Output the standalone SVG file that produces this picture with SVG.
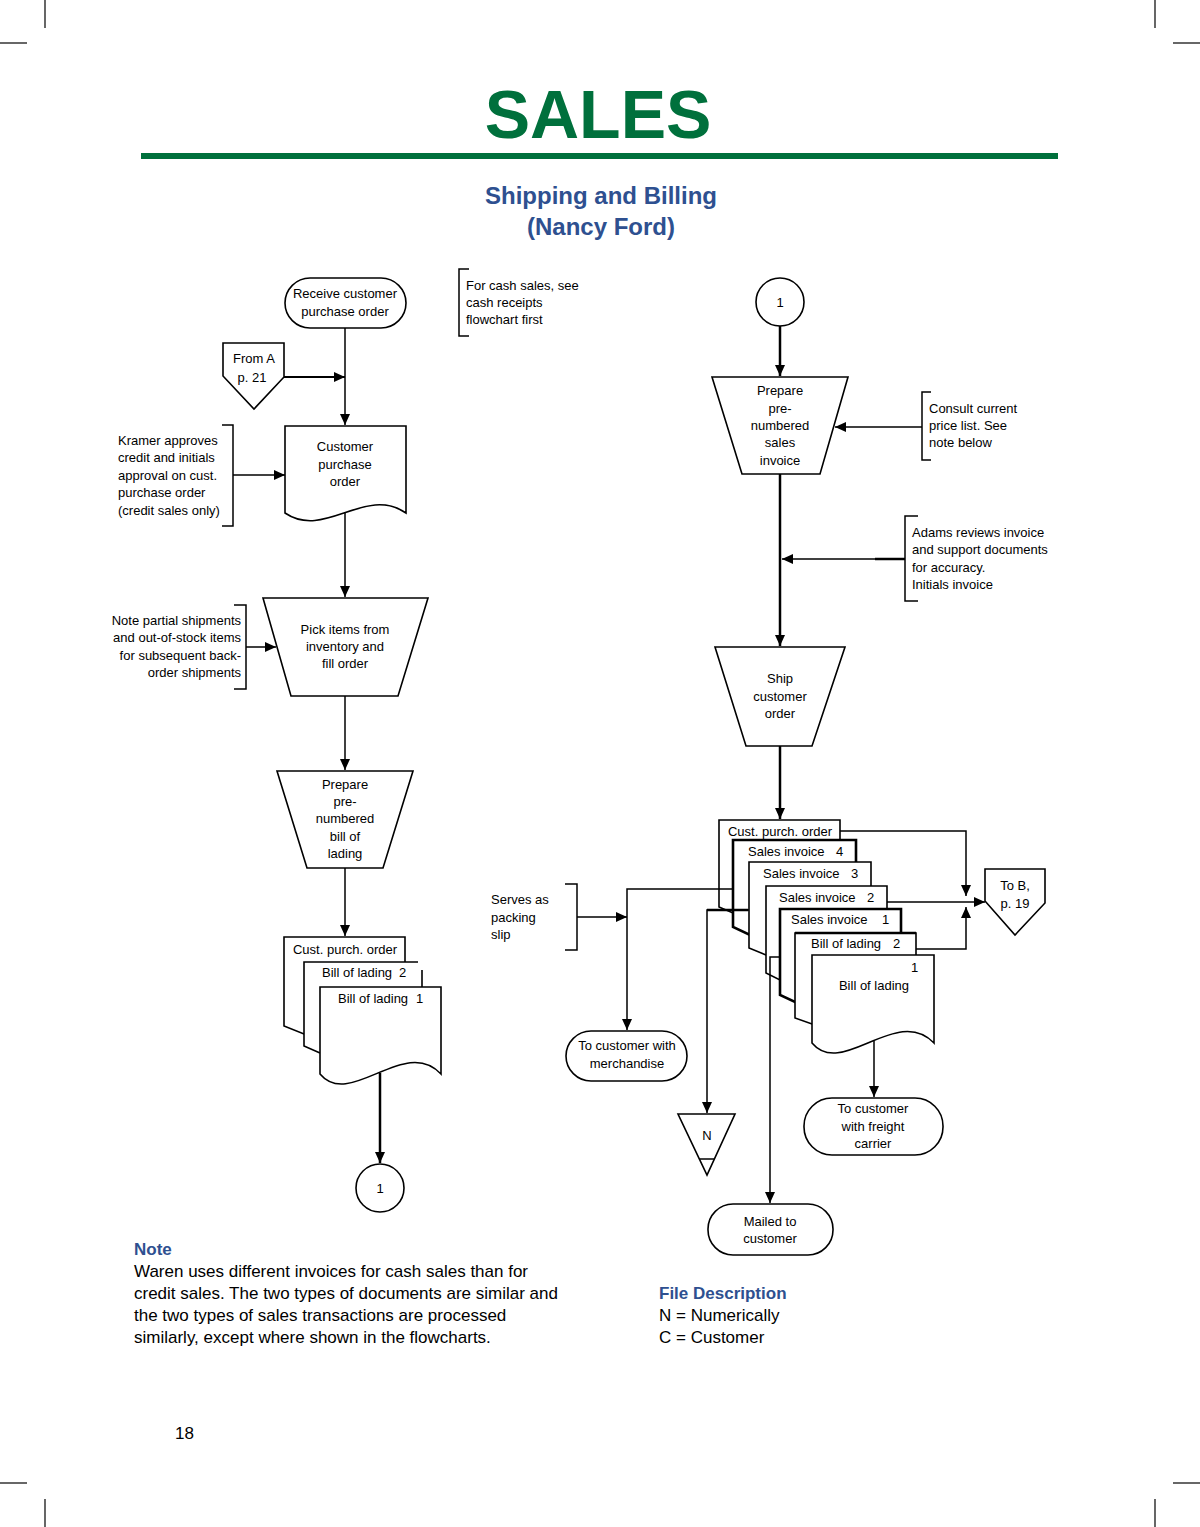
<svg xmlns="http://www.w3.org/2000/svg" width="1200" height="1527" viewBox="0 0 1200 1527">
<style>
.t{font-family:"Liberation Sans",Arial,sans-serif;font-size:13px;fill:#000}
.c{text-anchor:middle}
.r{text-anchor:end}
.s{fill:#fff;stroke:#000;stroke-width:1.6}
.k{stroke-width:2.6}
.ln{fill:none;stroke:#000;stroke-width:1.5}
.th{stroke-width:2.5}
.br{fill:none;stroke:#000;stroke-width:1.5}
.crop{stroke:#000;stroke-width:1.2}
.blue{font-family:"Liberation Sans",Arial,sans-serif;font-weight:bold;fill:#2e5090}
.body{font-family:"Liberation Sans",Arial,sans-serif;font-size:17px;fill:#000}
</style>
<defs>
<marker id="ah" markerUnits="userSpaceOnUse" markerWidth="11" markerHeight="10" refX="11" refY="5" orient="auto">
<path d="M0,0 L11,5 L0,10 Z" fill="#000"/>
</marker>
</defs>
<rect width="1200" height="1527" fill="#fff"/>
<g id="cropmarks">
<line class="crop" x1="45" y1="0" x2="45" y2="28"/>
<line class="crop" x1="0" y1="43" x2="27" y2="43"/>
<line class="crop" x1="1155" y1="0" x2="1155" y2="28"/>
<line class="crop" x1="1173" y1="43" x2="1200" y2="43"/>
<line class="crop" x1="0" y1="1483" x2="27" y2="1483"/>
<line class="crop" x1="1173" y1="1483" x2="1200" y2="1483"/>
<line class="crop" x1="45" y1="1499" x2="45" y2="1527"/>
<line class="crop" x1="1155" y1="1499" x2="1155" y2="1527"/>
</g>
<g id="header">
<text x="598" y="138" text-anchor="middle" font-family="Liberation Sans,Arial,sans-serif" font-weight="bold" font-size="68" fill="#00703c">SALES</text>
<rect x="141" y="153" width="917" height="6" fill="#00703c"/>
<text class="blue" x="601" y="204" text-anchor="middle" font-size="24">Shipping and Billing</text>
<text class="blue" x="601" y="235" text-anchor="middle" font-size="24">(Nancy Ford)</text>
</g>
<g id="connectors">
<path class="ln" d="M345,328 V425" marker-end="url(#ah)"/>
<path class="ln" style="stroke-width:2" d="M284,377 H345" marker-end="url(#ah)"/>
<path class="ln" d="M233,475 H285" marker-end="url(#ah)"/>
<path class="ln" d="M345,513 V597" marker-end="url(#ah)"/>
<path class="ln" d="M246,647 H276" marker-end="url(#ah)"/>
<path class="ln" d="M345,696 V770" marker-end="url(#ah)"/>
<path class="ln" d="M345,868 V936" marker-end="url(#ah)"/>
<path class="ln th" d="M380,1073 V1163" marker-end="url(#ah)"/>
<path class="ln th" d="M780,326 V376" marker-end="url(#ah)"/>
<path class="ln" d="M922,427 H835" marker-end="url(#ah)"/>
<path class="ln th" d="M780,474 V646" marker-end="url(#ah)"/>
<path class="ln" d="M905,559 H782" marker-end="url(#ah)"/>
<path class="ln th" d="M780,746 V819" marker-end="url(#ah)"/>
<path class="ln" d="M577,917 H627" marker-end="url(#ah)"/>
</g>
<g id="note-cash">
<path class="br" d="M469,269 H459 V336 H469"/>
<text class="t" x="466" y="289.5">For cash sales, see</text>
<text class="t" x="466" y="306.5">cash receipts</text>
<text class="t" x="466" y="323.5">flowchart first</text>
</g>
<g id="receive-po">
<rect class="s" x="285" y="278" width="121" height="50" rx="25"/>
<text class="t c" x="345" y="297.5">Receive customer</text>
<text class="t c" x="345" y="315.5">purchase order</text>
</g>
<g id="from-a">
<path class="s" d="M223,343 H284 V377 L254,409 L223,376 Z"/>
<text class="t c" x="254" y="362.5">From A</text>
<text class="t c" x="252" y="381.5">p. 21</text>
</g>
<g id="kramer-note">
<path class="br" d="M222,425 H233 V526 H222"/>
<text class="t" x="118" y="444.5">Kramer approves</text>
<text class="t" x="118" y="461.5">credit and initials</text>
<text class="t" x="118" y="479.5">approval on cust.</text>
<text class="t" x="118" y="496.5">purchase order</text>
<text class="t" x="118" y="514.5">(credit sales only)</text>
</g>
<g id="customer-po">
<path class="s" d="M285,426 H406 V513 C365,485 325,540 285,513 Z"/>
<text class="t c" x="345" y="450.5">Customer</text>
<text class="t c" x="345" y="468.5">purchase</text>
<text class="t c" x="345" y="485.5">order</text>
</g>
<g id="partial-note">
<path class="br" d="M234,605 H246 V689 H234"/>
<text class="t r" x="241" y="624.5">Note partial shipments</text>
<text class="t r" x="241" y="641.5">and out-of-stock items</text>
<text class="t r" x="241" y="659.5">for subsequent back-</text>
<text class="t r" x="241" y="676.5">order shipments</text>
</g>
<g id="pick-items">
<path class="s" d="M263,598 H428 L398,696 H291 Z"/>
<text class="t c" x="345" y="633.5">Pick items from</text>
<text class="t c" x="345" y="650.5">inventory and</text>
<text class="t c" x="345" y="667.5">fill order</text>
</g>
<g id="prepare-bol">
<path class="s" d="M277,771 H413 L383,868 H307 Z"/>
<text class="t c" x="345" y="788.5">Prepare</text>
<text class="t c" x="345" y="805.5">pre-</text>
<text class="t c" x="345" y="822.5">numbered</text>
<text class="t c" x="345" y="840.5">bill of</text>
<text class="t c" x="345" y="857.5">lading</text>
</g>
<g id="left-doc-stack">
<path class="s" d="M284,937 H405 V1034 H304 L284,1026 Z"/>
<text class="t c" x="345" y="953.5">Cust. purch. order</text>
<path fill="#fff" d="M304,962 H420 V1050 H304 Z"/>
<path class="ln" style="stroke-width:1.6" d="M320,1053 L304,1046 V962 H418 M422,970 V988"/>
<text class="t" x="322" y="976.5">Bill of lading</text>
<text class="t" x="399" y="976.5">2</text>
<path class="s" d="M320,987 H441 V1074 C405,1035 350,1110 320,1074 Z"/>
<text class="t" x="338" y="1002.5">Bill of lading</text>
<text class="t" x="416" y="1002.5">1</text>
</g>
<g id="connector-1-left">
<circle class="s" cx="380" cy="1188" r="24"/>
<text class="t c" x="380" y="1192.5">1</text>
</g>
<g id="connector-1-right">
<circle class="s" cx="780" cy="302" r="24"/>
<text class="t c" x="780" y="306.5">1</text>
</g>
<g id="prepare-invoice">
<path class="s" d="M712,377 H848 L820,474 H742 Z"/>
<text class="t c" x="780" y="394.5">Prepare</text>
<text class="t c" x="780" y="412.5">pre-</text>
<text class="t c" x="780" y="429.5">numbered</text>
<text class="t c" x="780" y="446.5">sales</text>
<text class="t c" x="780" y="464.5">invoice</text>
</g>
<g id="consult-note">
<path class="br" d="M931,392 H922 V460 H931"/>
<text class="t" x="929" y="412.5">Consult current</text>
<text class="t" x="929" y="429.5">price list. See</text>
<text class="t" x="929" y="446.5">note below</text>
</g>
<g id="adams-note">
<path class="br" d="M918,516 H905 V601 H918"/>
<path class="ln th" d="M875,559 H905"/>
<text class="t" x="912" y="536.5">Adams reviews invoice</text>
<text class="t" x="912" y="553.5">and support documents</text>
<text class="t" x="912" y="571.5">for accuracy.</text>
<text class="t" x="912" y="588.5">Initials invoice</text>
</g>
<g id="ship-order">
<path class="s" d="M715,647 H845 L812,746 H746 Z"/>
<text class="t c" x="780" y="682.5">Ship</text>
<text class="t c" x="780" y="700.5">customer</text>
<text class="t c" x="780" y="717.5">order</text>
</g>
<g id="right-doc-stack">
<path class="s" d="M719,820 H840 V913 H733 L719,907 Z"/>
<text class="t c" x="780" y="835.5">Cust. purch. order</text>
<path class="s k" d="M733,840 H856 V935 H750 L733,927 Z"/>
<text class="t" x="748" y="855.5">Sales invoice</text>
<text class="t" x="836" y="855.5">4</text>
<path class="s" d="M749,862 H871 V955 H766 L749,948 Z"/>
<text class="t" x="763" y="877.5">Sales invoice</text>
<text class="t" x="851" y="877.5">3</text>
<path class="s" d="M766,886 H887 V980 H780 L766,973 Z"/>
<text class="t" x="779" y="901.5">Sales invoice</text>
<text class="t" x="867" y="901.5">2</text>
<path class="s k" d="M780,909 H901 V1002 H795 L780,995 Z"/>
<text class="t" x="791" y="923.5">Sales invoice</text>
<text class="t" x="882" y="923.5">1</text>
<path class="s" d="M795,933 H916 V1024 H812 L795,1018 Z"/>
<path class="ln th" d="M795,933 H916"/>
<text class="t" x="811" y="947.5">Bill of lading</text>
<text class="t" x="893" y="947.5">2</text>
<path class="s" d="M812,955 H934 V1043 C897,1004 842,1079 812,1043 Z"/>
<text class="t" x="911" y="971.5">1</text>
<text class="t c" x="874" y="989.5">Bill of lading</text>
</g>
<g id="stack-connectors">
<path class="ln" d="M840,831 H966 V896" marker-end="url(#ah)"/>
<path class="ln" d="M887,902 H985" marker-end="url(#ah)"/>
<path class="ln" d="M916,949 H966 V907" marker-end="url(#ah)"/>
<path class="ln" d="M733,889 H627 V1030" marker-end="url(#ah)"/>
<path class="ln" d="M749,910 H707 V1113" marker-end="url(#ah)"/>
<path class="ln th" d="M748,910 H707"/>
<path class="ln" d="M780,957 H770 V1203" marker-end="url(#ah)"/>
<path class="ln" d="M874,1041 V1097" marker-end="url(#ah)"/>
</g>
<g id="to-b">
<path class="s" d="M985,869 H1045 V903 L1015,935 L985,901 Z"/>
<text class="t c" x="1015" y="889.5">To B,</text>
<text class="t c" x="1015" y="907.5">p. 19</text>
</g>
<g id="packing-note">
<path class="br" d="M565,884 H577 V950 H565"/>
<text class="t" x="491" y="903.5">Serves as</text>
<text class="t" x="491" y="921.5">packing</text>
<text class="t" x="491" y="938.5">slip</text>
</g>
<g id="to-customer-merch">
<rect class="s" x="566" y="1031" width="121" height="50" rx="25"/>
<text class="t c" x="627" y="1049.5">To customer with</text>
<text class="t c" x="627" y="1067.5">merchandise</text>
</g>
<g id="file-n">
<path class="s" d="M678,1114 H735 L707,1175 Z"/>
<line class="ln" x1="700" y1="1159" x2="714" y2="1159"/>
<text class="t c" x="707" y="1139.5">N</text>
</g>
<g id="to-customer-freight">
<rect class="s" x="804" y="1098" width="139" height="57" rx="28"/>
<text class="t c" x="873" y="1112.5">To customer</text>
<text class="t c" x="873" y="1130.5">with freight</text>
<text class="t c" x="873" y="1147.5">carrier</text>
</g>
<g id="mailed-customer">
<rect class="s" x="708" y="1204" width="125" height="51" rx="25"/>
<text class="t c" x="770" y="1225.5">Mailed to</text>
<text class="t c" x="770" y="1242.5">customer</text>
</g>
<g id="note-block">
<text class="blue" x="134" y="1255" font-size="17">Note</text>
<text class="body" x="134" y="1277">Waren uses different invoices for cash sales than for</text>
<text class="body" x="134" y="1299">credit sales. The two types of documents are similar and</text>
<text class="body" x="134" y="1321">the two types of sales transactions are processed</text>
<text class="body" x="134" y="1343">similarly, except where shown in the flowcharts.</text>
</g>
<g id="file-description">
<text class="blue" x="659" y="1299" font-size="17">File Description</text>
<text class="body" x="659" y="1321">N = Numerically</text>
<text class="body" x="659" y="1343">C = Customer</text>
</g>
<text class="body" x="175" y="1439">18</text>
</svg>
